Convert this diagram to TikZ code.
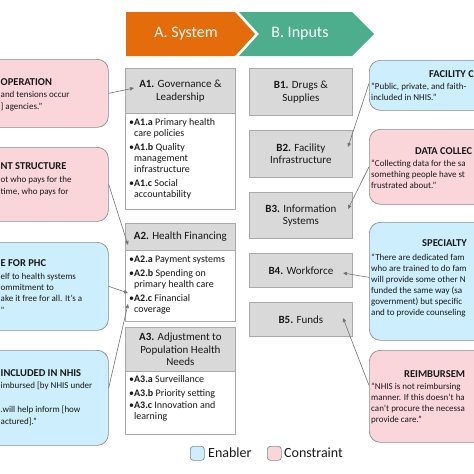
\documentclass[tikz,border=0pt]{standalone}
\usepackage{fontspec}
\setmainfont{Carlito}
\usetikzlibrary{arrows.meta}
\definecolor{orng}{RGB}{228,108,10}
\definecolor{tealc}{RGB}{76,174,141}
\definecolor{boxgray}{RGB}{217,217,217}
\definecolor{boxline}{RGB}{170,170,170}
\definecolor{pinkc}{RGB}{250,214,219}
\definecolor{bluec}{RGB}{205,238,252}
\definecolor{cline}{RGB}{140,140,140}
\definecolor{arrc}{RGB}{115,115,115}
\definecolor{txtc}{RGB}{25,25,25}
\begin{document}
\begin{tikzpicture}[x=1pt,y=-1pt,
  hdr/.style={draw=boxline, fill=boxgray, line width=0.8pt, anchor=north west, inner sep=0pt, align=center, minimum width=110pt, text=txtc, font=\fontsize{11}{12.5}\selectfont},
  bodybox/.style={draw=boxline, fill=white, line width=0.8pt, anchor=north west, inner sep=0pt, minimum width=110pt},
  bbox/.style={draw=boxline, fill=boxgray, line width=0.8pt, anchor=north west, inner sep=0pt, align=center, minimum width=103pt, text=txtc, font=\fontsize{11}{12.5}\selectfont},
  callout/.style={draw=cline, line width=0.7pt, rounded corners=11pt, anchor=north west, inner sep=0pt},
  enab/.style={callout, fill=bluec},
  cons/.style={callout, fill=pinkc},
  ctitle/.style={font=\fontsize{10.5}{12}\selectfont\bfseries, inner sep=0pt, text=txtc},
  ctext/.style={font=\fontsize{9}{11}\selectfont, inner sep=0pt, text=txtc},
  btext/.style={anchor=base west, inner sep=0pt, text=txtc},
  conn/.style={draw=arrc, line width=0.6pt, -{Triangle[length=4pt,width=3.5pt]}},
  chev/.style={font=\fontsize{16}{18}\selectfont, text=white, inner sep=0pt},
  legt/.style={anchor=west, font=\fontsize{14}{16}\selectfont, inner sep=0pt, text=txtc}
]
\useasboundingbox (0,0) rectangle (474,474);
\clip (0,0) rectangle (474,474);

% header chevrons
\fill[tealc] (239,12) -- (352,12) -- (374,34) -- (352,56) -- (239,56) -- (259,34) -- cycle;
\fill[orng] (126,12) -- (235,12) -- (255,34) -- (235,56) -- (126,56) -- cycle;
\node[chev] (sysl) at (186,34) {A. System};
\node[chev] (inpl) at (300,34) {B. Inputs};

% column A
\node[bodybox, minimum height=96pt] (a1b) at (125,113) {};
\node[hdr, minimum height=45pt] (a1h) at (125,68) {\textbf{A1.} Governance \&\\Leadership};
\node[btext] (a1t) at (129,125.5) {\parbox[t]{104pt}{\fontsize{10}{11}\selectfont\raggedright
\textbullet\textbf{A1.a} Primary health\\\hphantom{\textbullet}care policies\\[3pt]
\textbullet\textbf{A1.b} Quality\\\hphantom{\textbullet}management\\\hphantom{\textbullet}infrastructure\\[3pt]
\textbullet\textbf{A1.c} Social\\\hphantom{\textbullet}accountability}};

\node[bodybox, minimum height=71pt] (a2b) at (125,250) {};
\node[hdr, minimum height=27pt] (a2h) at (125,223) {\textbf{A2.} Health Financing};
\node[btext] (a2t) at (129,262.5) {\parbox[t]{104pt}{\fontsize{10}{11}\selectfont\raggedright
\textbullet\textbf{A2.a} Payment systems\\[3pt]
\textbullet\textbf{A2.b} Spending on\\\hphantom{\textbullet}primary health care\\[3pt]
\textbullet\textbf{A2.c} Financial\\\hphantom{\textbullet}coverage}};

\node[bodybox, minimum height=63pt] (a3b) at (125,371) {};
\node[hdr, minimum height=44pt] (a3h) at (125,327) {\textbf{A3.} Adjustment to\\Population Health\\Needs};
\node[btext] (a3t) at (129,382.5) {\parbox[t]{104pt}{\fontsize{10}{11}\selectfont\raggedright
\textbullet\textbf{A3.a} Surveillance\\[3pt]
\textbullet\textbf{A3.b} Priority setting\\[1pt]
\textbullet\textbf{A3.c} Innovation and\\\hphantom{\textbullet}learning}};

% column B
\node[bbox, minimum height=47pt] (b1) at (249,68) {\textbf{B1.} Drugs \&\\Supplies};
\node[bbox, minimum height=47pt] (b2) at (249,130) {\textbf{B2.} Facility\\Infrastructure};
\node[bbox, minimum height=46pt] (b3) at (249,192) {\textbf{B3.} Information\\Systems};
\node[bbox, minimum height=34pt] (b4) at (249,253) {\textbf{B4.} Workforce};
\node[bbox, minimum height=34pt] (b5) at (249,302) {\textbf{B5.} Funds};

% left callouts
\node[cons, minimum width=138pt, minimum height=68pt] (coop) at (-30,59) {};
\node[ctitle, anchor=base west] (coopt) at (0.5,85.5) {OPERATION};
\node[ctext, anchor=base west] (coop1) at (0.5,97.5) {and tensions occur};
\node[ctext, anchor=base west] (coop2) at (0.5,109.5) {] agencies.”};

\node[cons, minimum width=138pt, minimum height=74pt] (pay) at (-30,147) {};
\node[ctitle, anchor=base west] (payt) at (0.5,169.5) {NT STRUCTURE};
\node[ctext, anchor=base west] (pay1) at (0.5,182.5) {ot who pays for the};
\node[ctext, anchor=base west] (pay2) at (0.5,194) {time, who pays for};

\node[enab, minimum width=138pt, minimum height=88pt] (phc) at (-30,242) {};
\node[ctitle, anchor=base west] (phct) at (0.5,266.5) {E FOR PHC};
\node[ctext, anchor=base west] (phc1) at (0.5,279) {elf to health systems};
\node[ctext, anchor=base west] (phc2) at (0.5,290.3) {ommitment to};
\node[ctext, anchor=base west] (phc3) at (0.5,301.6) {ake it free for all. It’s a};
\node[ctext, anchor=base west] (phc4) at (0.5,313) {”};

\node[enab, minimum width=138pt, minimum height=95pt] (nhis) at (-30,350) {};
\node[ctitle, anchor=base west] (nhist) at (0.5,376.5) {INCLUDED IN NHIS};
\node[ctext, anchor=base west] (nhis1) at (0.5,388.5) {imbursed [by NHIS under};
\node[ctext, anchor=base west] (nhis2) at (0.5,412) {.will help inform [how};
\node[ctext, anchor=base west] (nhis3) at (0.5,424) {actured].”};

% right callouts
\node[enab, minimum width=140pt, minimum height=50pt] (fac) at (369,60) {};
\node[ctitle, anchor=base west] (fact) at (429,77.5) {FACILITY C};
\node[ctext, anchor=base west] (fac1) at (371,89.5) {“Public, private, and faith-};
\node[ctext, anchor=base west] (fac2) at (371,100.5) {included in NHIS.”};

\node[cons, minimum width=140pt, minimum height=75pt] (data) at (369,129) {};
\node[ctitle, anchor=base west] (datat) at (415,154.5) {DATA COLLEC};
\node[ctext, anchor=base west] (data1) at (371,166.5) {“Collecting data for the sa};
\node[ctext, anchor=base west] (data2) at (371,177.5) {something people have st};
\node[ctext, anchor=base west] (data3) at (371,188.5) {frustrated about.”};

\node[enab, minimum width=140pt, minimum height=118pt] (spec) at (369,222) {};
\node[ctitle, anchor=base west] (spect) at (422,246.5) {SPECIALTY};
\node[ctext, anchor=base west] (spec1) at (371,260.5) {“There are dedicated fam};
\node[ctext, anchor=base west] (spec2) at (371,271.5) {who are trained to do fam};
\node[ctext, anchor=base west] (spec3) at (371,282.5) {will provide some other N};
\node[ctext, anchor=base west] (spec4) at (371,293.5) {funded the same way (sa};
\node[ctext, anchor=base west] (spec5) at (371,304.5) {government) but specific};
\node[ctext, anchor=base west] (spec6) at (371,315.5) {and to provide counseling};

\node[cons, minimum width=140pt, minimum height=92pt] (reim) at (369,350) {};
\node[ctitle, anchor=base west] (reimt) at (404,377.5) {REIMBURSEM};
\node[ctext, anchor=base west] (reim1) at (371,389.5) {“NHIS is not reimbursing};
\node[ctext, anchor=base west] (reim2) at (371,400.5) {manner. If this doesn’t ha};
\node[ctext, anchor=base west] (reim3) at (371,411.5) {can’t procure the necessa};
\node[ctext, anchor=base west] (reim4) at (371,422.5) {provide care.”};

% arrow tips
\coordinate (t1) at (134,88);
\coordinate (t2) at (128,245);
\coordinate (t3) at (128,293);
\coordinate (t4) at (128,304);
\coordinate (t5) at (348,147);
\coordinate (t6) at (348,209);
\coordinate (t7) at (343,273);
\coordinate (t8) at (343,318);

\draw[conn] (coop.east) -- (t1);
\draw[conn] (pay.east) -- (t2);
\draw[conn] (phc.east) -- (t3);
\draw[conn] ([yshift=10pt]nhis.east) -- (t4);
\draw[conn] ([yshift=2pt]fac.west) -- (t5);
\draw[conn] (data.west) -- (t6);
\draw[conn] ([yshift=4pt]spec.west) -- (t7);
\draw[conn] ([yshift=11pt]reim.west) -- (t8);

% legend
\node[enab, rounded corners=3pt, minimum width=14pt, minimum height=14pt] (lege) at (190,446) {};
\node[legt] (legel) at (208,453) {Enabler};
\node[cons, rounded corners=3pt, minimum width=14pt, minimum height=14pt] (legc) at (267,446) {};
\node[legt] (legcl) at (284,453) {Constraint};
\end{tikzpicture}
\end{document}
